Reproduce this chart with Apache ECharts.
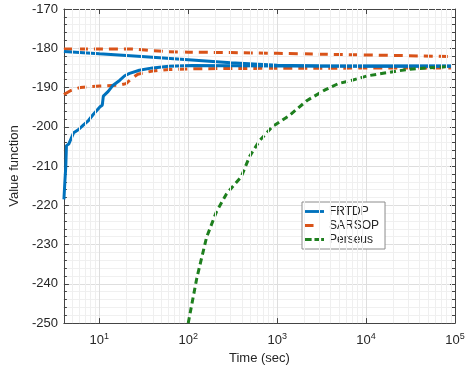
<!DOCTYPE html>
<html>
<head>
<meta charset="utf-8">
<script src="https://cdn.jsdelivr.net/npm/echarts@6/dist/echarts.min.js"></script>
<style>
html,body{margin:0;padding:0;background:#fff;}
#chart{width:474px;height:370px;}
</style>
</head>
<body>
<div id="chart"></div>
<script>
// ---- data (time in sec, value) ----
var frtdpUpper = [[4,-180.8],[10,-181.4],[30,-182.1],[100,-182.9],[300,-183.7],[1000,-184.3],[3000,-184.5],[10000,-184.6],[90000,-184.6]];
var frtdpLower = [[4,-218.5],[4.1,-214],[4.2,-210],[4.27,-204.8],[4.53,-204.4],[5.15,-201.5],[5.85,-200.7],[6.65,-199.5],[7.55,-198.4],[8.58,-196.8],[10.2,-194.9],[10.8,-194.5],[11.1,-192.2],[12.6,-191],[14.3,-189.4],[16.9,-188.2],[19.3,-187],[21.9,-186.4],[28.2,-185.6],[39.7,-185],[60.8,-184.6],[110,-184.4],[1000,-184.5],[90000,-184.5]];
var sarsopUpper = [[4,-180.2],[25,-180.2],[40,-180.6],[60,-180.9],[100,-181.0],[300,-181.1],[1000,-181.3],[3000,-181.5],[10000,-181.7],[30000,-181.9],[90000,-182.1]];
var sarsopLower = [[4,-191.8],[4.73,-190.8],[6.1,-190],[10.2,-189.6],[16.9,-189.4],[20,-189],[22.9,-187.8],[27.1,-186.6],[39.7,-185.8],[60.8,-185.4],[130,-185.2],[1000,-185.1],[90000,-185.0]];
var perseus = [[100,-250],[125,-238.5],[161,-228.1],[208,-221.6],[269,-217.1],[395,-212.7],[489,-207.6],[631,-203.6],[887,-199.9],[1358,-197.2],[2170,-193.3],[3460,-190.6],[4860,-189.0],[6840,-188.2],[10470,-187.0],[17450,-186.2],[29000,-185.4],[48400,-185.0],[84100,-184.7]];
var legendNames = ['FRTDP','SARSOP','Perseus'];
var xMin = 4, xMax = 100000;
var yMin = -250, yMax = -170, yStep = 10;
var xMinorGrid = [5,6,7,8,9,20,30,40,50,60,70,80,90,200,300,400,500,600,700,800,900,2000,3000,4000,5000,6000,7000,8000,9000,20000,30000,40000,50000,60000,70000,80000,90000];

var FONT = '"Liberation Sans", Arial, Helvetica, sans-serif';
var TXT = '#262626';
var blue = '#0072BD', orange = '#D95319', green = '#1E7F1E';
var legendIcons = {
  'FRTDP':'path://M0,0H21V3H0Z',
  'SARSOP':'path://M0,0H10V3H0Z M21,0L21,3',
  'Perseus':'path://M0,0H8V3H0Z M11,0H16V3H11Z M18,0H21V3H18Z'
};

function powLabel(v){
  var e = Math.round(Math.log(v)/Math.LN10);
  if (Math.abs(v - Math.pow(10,e)) > 1e-6*v) return '';
  return '{b|10}{s|' + e + '}';
}

var chart = echarts.init(document.getElementById('chart'), null, {renderer:'canvas'});
var option = {
  backgroundColor:'#fff',
  animation:false,
  grid:{left:58, right:19, top:9, bottom:45, containLabel:false},
  legend:{
    data:legendNames.map(function(n){return {name:n, icon:legendIcons[n]};}),
    orient:'vertical', left:302, top:202,
    backgroundColor:'#fff', borderColor:'#8c8c8c', borderWidth:1, borderRadius:0,
    padding:[3,6,3,2], itemWidth:20, itemHeight:3, itemGap:1,
    itemStyle:{borderWidth:0},
    lineStyle:{width:0, opacity:0},
    textStyle:{fontFamily:FONT, fontSize:12, color:TXT, lineHeight:13}
  },
  xAxis:[{
    type:'log', logBase:10, min:xMin, max:xMax, position:'bottom',
    name:'Time (sec)', nameLocation:'middle', nameGap:24,
    nameTextStyle:{fontFamily:FONT, fontSize:13, color:TXT},
    axisLine:{show:true, lineStyle:{color:'#444', width:1}},
    axisTick:{show:true, inside:true, length:5, lineStyle:{color:'#444'}},
    axisLabel:{formatter:powLabel, margin:9, color:TXT, fontFamily:FONT,
      rich:{b:{fontSize:13, fontFamily:FONT, color:TXT}, s:{fontSize:9, fontFamily:FONT, color:TXT, verticalAlign:'bottom', padding:[0,0,8,0]}}},
    splitLine:{show:true, lineStyle:{color:'#dedede', width:1}},
    minorTick:{show:false}
  },{
    type:'log', logBase:10, min:xMin, max:xMax, position:'top',
    axisLine:{show:true, lineStyle:{color:'#444', width:1}},
    axisTick:{show:true, inside:true, length:5, lineStyle:{color:'#444'}},
    axisLabel:{show:false}, splitLine:{show:false}
  }],
  yAxis:[{
    type:'value', min:yMin, max:yMax, interval:yStep, position:'left',
    name:'Value function', nameLocation:'middle', nameGap:41,
    nameTextStyle:{fontFamily:FONT, fontSize:13, color:TXT},
    axisLine:{show:true, lineStyle:{color:'#444', width:1}},
    axisTick:{show:true, inside:true, length:5, lineStyle:{color:'#444'}},
    minorTick:{show:true, splitNumber:5, length:3, lineStyle:{color:'#444'}},
    minorSplitLine:{show:true, lineStyle:{color:'#f0f0f0', width:1}},
    axisLabel:{fontFamily:FONT, fontSize:13, color:TXT, margin:6},
    splitLine:{show:true, lineStyle:{color:'#dedede', width:1}}
  },{
    type:'value', min:yMin, max:yMax, interval:yStep, position:'right',
    axisLine:{show:true, lineStyle:{color:'#444', width:1}},
    axisTick:{show:true, inside:true, length:5, lineStyle:{color:'#444'}},
    minorTick:{show:true, splitNumber:5, length:3, lineStyle:{color:'#444'}},
    axisLabel:{show:false}, splitLine:{show:false}
  }],
  series:[
    {type:'line', name:'_grid', data:[], z:1, silent:true,
      markLine:{silent:true, symbol:['none','none'], label:{show:false}, animation:false,
        lineStyle:{color:'#efefef', type:'solid', width:1},
        data:xMinorGrid.map(function(v){return {xAxis:v};})}},
    {type:'line', name:'FRTDP', data:frtdpUpper, showSymbol:false, symbol:'none', color:blue,
      lineStyle:{color:blue, width:3, type:'solid'}, z:3},
    {type:'line', name:'FRTDP', data:frtdpLower, showSymbol:false, symbol:'none', color:blue,
      lineStyle:{color:blue, width:3, type:'solid'}, z:3},
    {type:'line', name:'SARSOP', data:sarsopUpper, showSymbol:false, symbol:'none', color:orange,
      lineStyle:{color:orange, width:3, type:[9,6]}, z:2},
    {type:'line', name:'SARSOP', data:sarsopLower, showSymbol:false, symbol:'none', color:orange,
      lineStyle:{color:orange, width:3, type:[9,6]}, z:2},
    {type:'line', name:'Perseus', data:perseus, showSymbol:false, symbol:'none', color:green,
      lineStyle:{color:green, width:3, type:[6,4]}, z:4}
  ]
};
chart.setOption(option);
</script>
</body>
</html>
